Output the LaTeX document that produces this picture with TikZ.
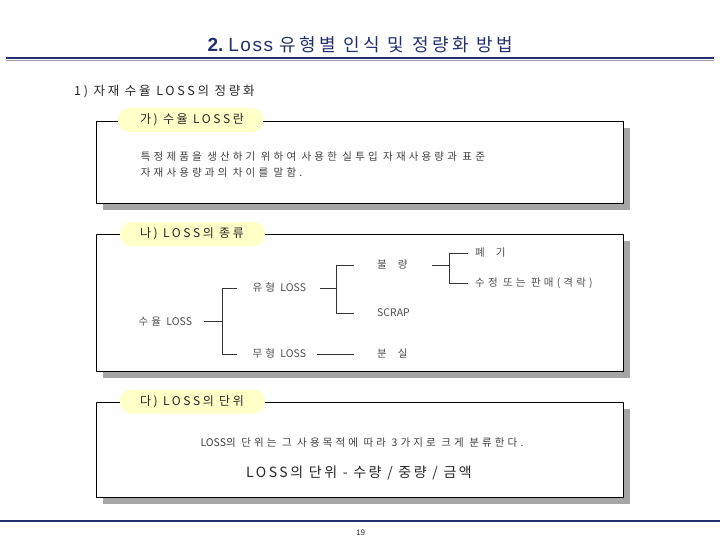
\documentclass[tikz,border=0pt]{standalone}
\usepackage{fontspec}
\setmainfont{Liberation Sans}
\newfontfamily\krwide[LetterSpace=30]{Noto Sans CJK KR}
\newfontfamily\krmid[LetterSpace=22]{Noto Sans CJK KR}
\newfontfamily\krbig[LetterSpace=18]{Noto Sans CJK KR}
\newfontfamily\krtitle[LetterSpace=20]{Noto Sans CJK KR}
\newfontfamily\krplain{Noto Sans CJK KR}
\newfontfamily\lattitle[LetterSpace=8]{Liberation Sans}
\usetikzlibrary{positioning, shadows}
\definecolor{navy}{HTML}{24306E}
\definecolor{rulegray}{HTML}{9A9CAA}
\definecolor{pillyellow}{HTML}{FFFFC8}
\definecolor{shadowgray}{HTML}{A6A6A6}
\definecolor{textgray}{HTML}{3F3F3F}
\definecolor{treegray}{HTML}{505050}
\newcommand\gap{~~}
\newcommand\lat[1]{{\krplain #1}}

\begin{document}
\begin{tikzpicture}[x=1pt, y=-1pt,
  infobox/.style={draw, line width=0.9pt, fill=white, anchor=north west, inner sep=0pt, drop shadow={shadow xshift=6.5pt, shadow yshift=-7pt, fill=shadowgray, opacity=1}},
  pill/.style={fill=pillyellow, rounded corners=11pt, minimum width=145pt, minimum height=24pt, inner sep=0pt},
  pilltext/.style={font=\krmid\fontsize{12}{14}\selectfont, text=black!85, inner sep=0pt},
  treenode/.style={font=\krwide\fontsize{10.5}{12}\selectfont, text=treegray, inner sep=0pt, anchor=west},
  branch/.style={draw=black!80, line width=0.9pt}]
\useasboundingbox (0,0) rectangle (720,540);
\node[font=\fontsize{19}{21}\selectfont, text=navy] (title) at (360.5,45) {\textbf{2.}\hspace{5pt}{\lattitle Loss}\hspace{6pt}{\krtitle\fontsize{18}{21}\selectfont 유형별 인식 및 정량화 방법}};
\draw[navy, line width=1.8pt] (6,58) -- (714,58);
\draw[rulegray, line width=1.5pt] (6,60.3) -- (714,60.3);
\node[font=\krmid\fontsize{12.5}{15}\selectfont, text=black!85, anchor=west, inner sep=0pt] (sec) at (74,92) {1) 자재 수율 LOSS의 정량화};

\node[infobox, minimum width=527pt, minimum height=82pt] (box1) at (96,121) {};
\node[pill] (tag1) at (190.5,120) {};
\node[pilltext, right=22pt of tag1.west] (tag1t) {가) 수율 LOSS란};
\node[font=\krwide\fontsize{10.5}{16}\selectfont, text=textgray, align=left, anchor=west, inner sep=0pt] (def) at (140.7,165) {특정제품을 생산하기 위하여 사용한 실투입 자재사용량과 표준\\자재사용량과의 차이를 말함.};

\node[infobox, minimum width=527pt, minimum height=137pt] (box2) at (96,234) {};
\node[pill] (tag2) at (192.5,234) {};
\node[pilltext, right=20pt of tag2.west] (tag2t) {나) LOSS의 종류};
\node[treenode] (root) at (138.3,321.5) {수율 \lat{LOSS}};
\node[treenode] (yu) at (252.3,288) {유형 \lat{LOSS}};
\node[treenode] (mu) at (252.3,354) {무형 \lat{LOSS}};
\node[treenode] (bl) at (377,265) {불\gap 량};
\node[treenode] (sc) at (377,313) {\lat{SCRAP}};
\node[treenode] (bs) at (377,354) {분\gap 실};
\node[treenode] (pg) at (475,253) {폐\gap 기};
\node[treenode] (sj) at (475,283) {수정 또는 판매(격락)};
\coordinate (j1) at (222.3,321.5);
\coordinate (j2) at (336,288);
\coordinate (j3) at (449.3,265);
\draw[branch] (204,321.5) -- (j1);
\draw[branch, shorten >=15pt] (j1) |- (yu.west);
\draw[branch, shorten >=15pt] (j1) |- (mu.west);
\draw[branch] (320,288) -- (j2);
\draw[branch, shorten >=23pt] (j2) |- (bl.west);
\draw[branch, shorten >=23pt] (j2) |- (sc.west);
\draw[branch, shorten >=23pt] (317,354) -- (bs.west);
\draw[branch] (431.7,265) -- (j3);
\draw[branch, shorten >=7pt] (j3) |- (pg.west);
\draw[branch, shorten >=7pt] (j3) |- (sj.west);

\node[infobox, minimum width=527pt, minimum height=95pt] (box3) at (96,402) {};
\node[pill] (tag3) at (192.5,401.5) {};
\node[pilltext, right=20pt of tag3.west] (tag3t) {다) LOSS의 단위};
\node[font=\krwide\fontsize{10.5}{12}\selectfont, text=textgray, inner sep=0pt] (unit1) at (362,443) {\lat{LOSS}의 단위는 그 사용목적에 따라 3가지로 크게 분류한다.};
\node[font=\krbig\fontsize{14}{16}\selectfont, text=black!85, inner sep=0pt] (unit2) at (359,473) {LOSS의 단위 - 수량 / 중량 / 금액};

\draw[navy, line width=2pt] (0,521) -- (720,521);
\node[font=\fontsize{8}{9}\selectfont, text=black!80] (page) at (360.7,532.7) {19};
\end{tikzpicture}
\end{document}
